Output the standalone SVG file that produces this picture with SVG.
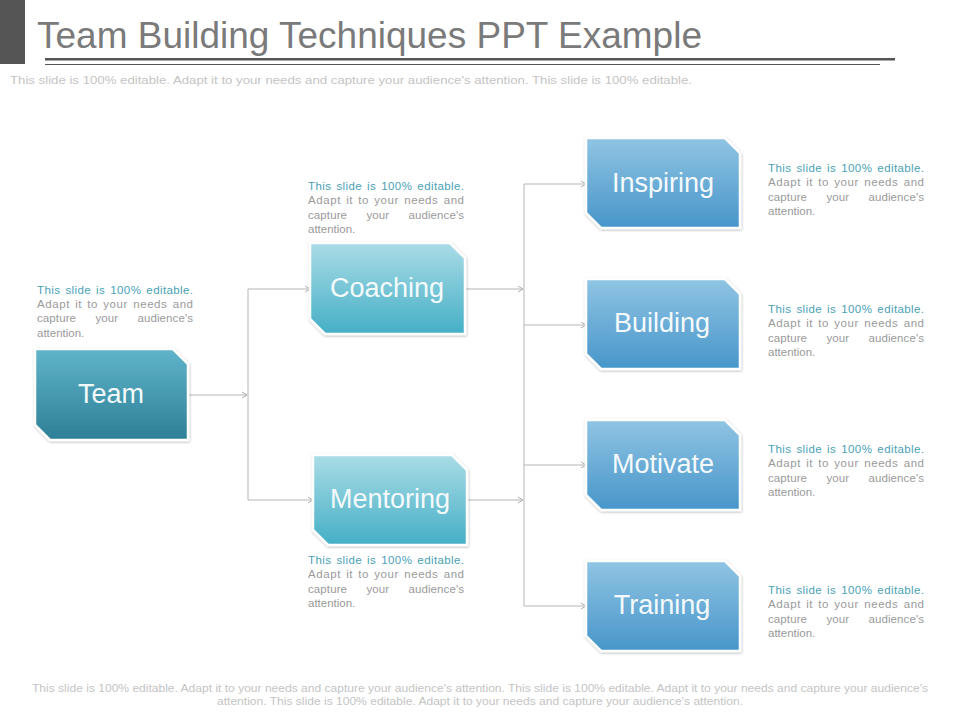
<svg xmlns="http://www.w3.org/2000/svg" width="960" height="720" viewBox="0 0 960 720">
<defs>
<style>
.ttl{font-family:"Liberation Sans",Arial,sans-serif;font-size:36px;fill:#7a7a7a}
.sub{font-family:"Liberation Sans",Arial,sans-serif;font-size:11px;fill:#c4c4c4}
.lbl{font-family:"Liberation Sans",Arial,sans-serif;font-size:27px;fill:#f4fafc;text-anchor:middle}
.d1{font-family:"Liberation Sans",Arial,sans-serif;font-size:11.5px;fill:#4aa2b6;word-spacing:1.5px}
.d2{font-family:"Liberation Sans",Arial,sans-serif;font-size:11.5px;fill:#9a9a9a;word-spacing:1.5px}
.d3{font-family:"Liberation Sans",Arial,sans-serif;font-size:11.5px;fill:#9a9a9a;word-spacing:16px}
.d4{font-family:"Liberation Sans",Arial,sans-serif;font-size:11.5px;fill:#9a9a9a}
.box{stroke:#ffffff;stroke-width:2.5;filter:url(#sh)}
.con{fill:none;stroke:#b5b5b5;stroke-width:1}
</style>
<linearGradient id="gT" x1="0" y1="0" x2="0" y2="1"><stop offset="0" stop-color="#60b4c9"/><stop offset="1" stop-color="#2e7f96"/></linearGradient>
<linearGradient id="gC" x1="0" y1="0" x2="0" y2="1"><stop offset="0" stop-color="#aadce6"/><stop offset="1" stop-color="#45afc6"/></linearGradient>
<linearGradient id="gR" x1="0" y1="0" x2="0" y2="1"><stop offset="0" stop-color="#90c4e3"/><stop offset="1" stop-color="#4796ca"/></linearGradient>
<filter id="sh" x="-10%" y="-10%" width="120%" height="125%"><feDropShadow dx="0.5" dy="1" stdDeviation="1.2" flood-color="#000" flood-opacity="0.3"/></filter>
<marker id="ar" markerUnits="userSpaceOnUse" markerWidth="8" markerHeight="8" refX="6" refY="4" orient="auto"><path d="M1,1 L6,4 L1,7" fill="none" stroke="#b0b0b0" stroke-width="1"/></marker>
</defs>
<rect width="960" height="720" fill="#ffffff"/>
<g id="header">
<rect x="0" y="0" width="25" height="64" fill="#555555"/>
<text class="ttl" x="37" y="48" textLength="665" lengthAdjust="spacingAndGlyphs">Team Building Techniques PPT Example</text>
<rect x="45" y="58" width="850" height="2.5" fill="#555555"/>
<rect x="45" y="64" width="835" height="1" fill="#555555"/>
<text class="sub" x="10" y="84" textLength="682" lengthAdjust="spacingAndGlyphs">This slide is 100% editable. Adapt it to your needs and capture your audience's attention. This slide is 100% editable.</text>
</g>
<g id="connectors">
<path class="con" d="M188,395 H247" marker-end="url(#ar)"/>
<path class="con" d="M248,289 V500"/>
<path class="con" d="M248,289 H310" marker-end="url(#ar)"/>
<path class="con" d="M248,500 H313" marker-end="url(#ar)"/>
<path class="con" d="M465,289 H523" marker-end="url(#ar)"/>
<path class="con" d="M467,500 H523" marker-end="url(#ar)"/>
<path class="con" d="M524,184 V606"/>
<path class="con" d="M524,184 H586" marker-end="url(#ar)"/>
<path class="con" d="M524,325 H586" marker-end="url(#ar)"/>
<path class="con" d="M524,465 H586" marker-end="url(#ar)"/>
<path class="con" d="M524,606 H586" marker-end="url(#ar)"/>
</g>
<g id="team">
<path class="box" fill="url(#gT)" d="M35,349 H173 L188,364 V440 H50 L35,425 Z"/>
<text class="lbl" x="111" y="403">Team</text>
<text class="d1" x="37" y="294" textLength="156" lengthAdjust="spacing">This slide is 100% editable.</text>
<text class="d2" x="37" y="308" textLength="156" lengthAdjust="spacing">Adapt it to your needs and</text>
<text class="d3" x="37" y="322" textLength="156" lengthAdjust="spacing">capture your audience's</text>
<text class="d4" x="37" y="337">attention.</text>
</g>
<g id="coaching">
<path class="box" fill="url(#gC)" d="M310,243 H450 L465,258 V334 H325 L310,319 Z"/>
<text class="lbl" x="387" y="297">Coaching</text>
<text class="d1" x="308" y="190" textLength="156" lengthAdjust="spacing">This slide is 100% editable.</text>
<text class="d2" x="308" y="204" textLength="156" lengthAdjust="spacing">Adapt it to your needs and</text>
<text class="d3" x="308" y="219" textLength="156" lengthAdjust="spacing">capture your audience's</text>
<text class="d4" x="308" y="233">attention.</text>
</g>
<g id="mentoring">
<path class="box" fill="url(#gC)" d="M313,455 H452 L467,470 V545 H328 L313,530 Z"/>
<text class="lbl" x="390" y="508">Mentoring</text>
<text class="d1" x="308" y="564" textLength="156" lengthAdjust="spacing">This slide is 100% editable.</text>
<text class="d2" x="308" y="578" textLength="156" lengthAdjust="spacing">Adapt it to your needs and</text>
<text class="d3" x="308" y="593" textLength="156" lengthAdjust="spacing">capture your audience's</text>
<text class="d4" x="308" y="607">attention.</text>
</g>
<g id="inspiring">
<path class="box" fill="url(#gR)" d="M586,138 H725 L740,153 V228 H601 L586,213 Z"/>
<text class="lbl" x="663" y="192">Inspiring</text>
<text class="d1" x="768" y="172" textLength="156" lengthAdjust="spacing">This slide is 100% editable.</text>
<text class="d2" x="768" y="186" textLength="156" lengthAdjust="spacing">Adapt it to your needs and</text>
<text class="d3" x="768" y="201" textLength="156" lengthAdjust="spacing">capture your audience's</text>
<text class="d4" x="768" y="215">attention.</text>
</g>
<g id="building">
<path class="box" fill="url(#gR)" d="M586,279 H725 L740,294 V369 H601 L586,354 Z"/>
<text class="lbl" x="662" y="332">Building</text>
<text class="d1" x="768" y="313" textLength="156" lengthAdjust="spacing">This slide is 100% editable.</text>
<text class="d2" x="768" y="327" textLength="156" lengthAdjust="spacing">Adapt it to your needs and</text>
<text class="d3" x="768" y="342" textLength="156" lengthAdjust="spacing">capture your audience's</text>
<text class="d4" x="768" y="356">attention.</text>
</g>
<g id="motivate">
<path class="box" fill="url(#gR)" d="M586,420 H725 L740,435 V510 H601 L586,495 Z"/>
<text class="lbl" x="663" y="473">Motivate</text>
<text class="d1" x="768" y="453" textLength="156" lengthAdjust="spacing">This slide is 100% editable.</text>
<text class="d2" x="768" y="467" textLength="156" lengthAdjust="spacing">Adapt it to your needs and</text>
<text class="d3" x="768" y="482" textLength="156" lengthAdjust="spacing">capture your audience's</text>
<text class="d4" x="768" y="496">attention.</text>
</g>
<g id="training">
<path class="box" fill="url(#gR)" d="M586,561 H725 L740,576 V651 H601 L586,636 Z"/>
<text class="lbl" x="662" y="614">Training</text>
<text class="d1" x="768" y="594" textLength="156" lengthAdjust="spacing">This slide is 100% editable.</text>
<text class="d2" x="768" y="608" textLength="156" lengthAdjust="spacing">Adapt it to your needs and</text>
<text class="d3" x="768" y="623" textLength="156" lengthAdjust="spacing">capture your audience's</text>
<text class="d4" x="768" y="637">attention.</text>
</g>
<g id="footer">
<text class="sub" x="32" y="692" textLength="896" lengthAdjust="spacingAndGlyphs">This slide is 100% editable. Adapt it to your needs and capture your audience's attention. This slide is 100% editable. Adapt it to your needs and capture your audience's</text>
<text class="sub" x="217" y="705" textLength="526" lengthAdjust="spacingAndGlyphs">attention. This slide is 100% editable. Adapt it to your needs and capture your audience's attention.</text>
</g>
</svg>
